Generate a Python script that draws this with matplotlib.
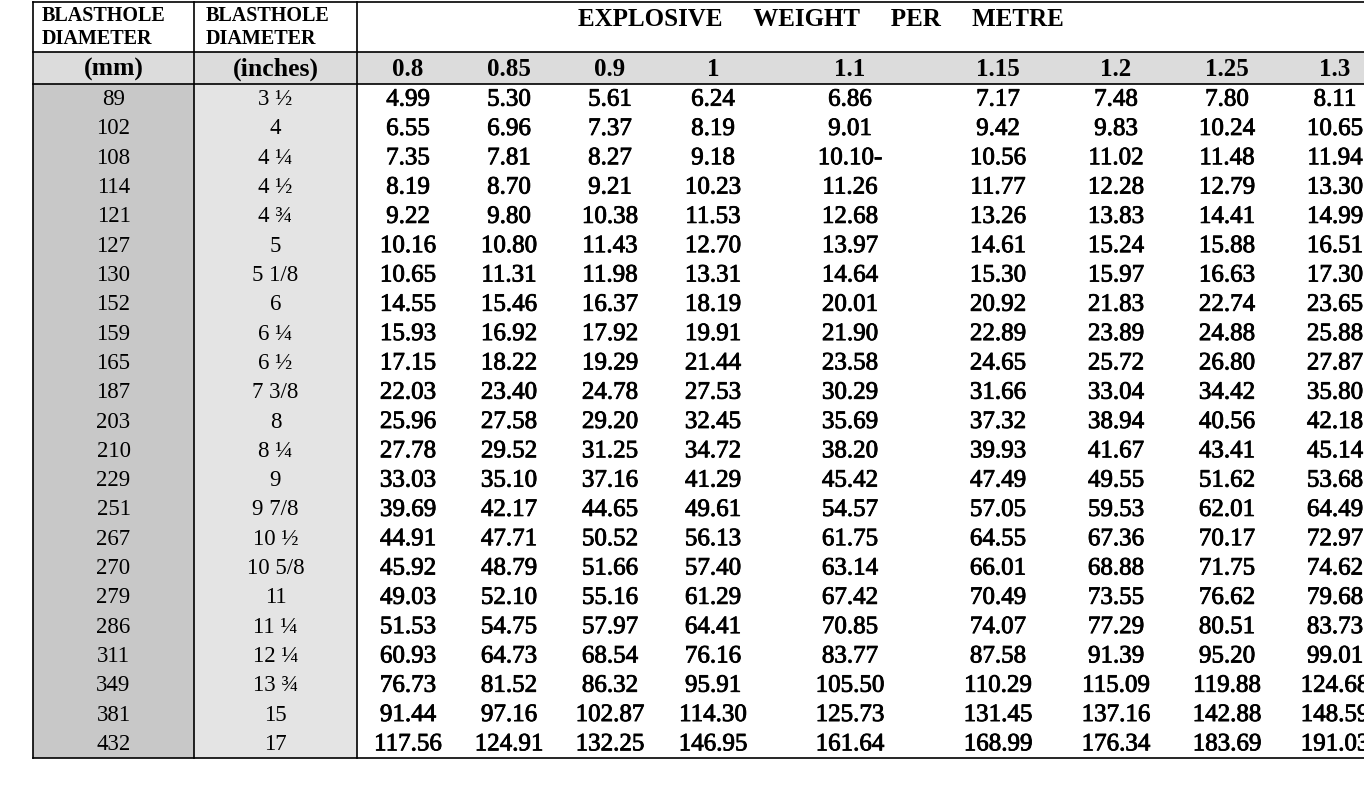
import matplotlib
matplotlib.use("Agg")
import matplotlib.pyplot as plt
from matplotlib.patches import Rectangle

mm = [89,102,108,114,121,127,130,152,159,165,187,203,210,229,251,267,270,279,286,311,349,381,432]
inches = ["3 ½","4","4 ¼","4 ½","4 ¾","5","5 1/8","6","6 ¼","6 ½","7 3/8","8","8 ¼","9","9 7/8",
          "10 ½","10 5/8","11","11 ¼","12 ¼","13 ¾","15","17"]
weights = ["0.8","0.85","0.9","1","1.1","1.15","1.2","1.25","1.3"]
c080 = ["4.99","6.55","7.35","8.19","9.22","10.16","10.65","14.55","15.93","17.15","22.03","25.96","27.78","33.03","39.69","44.91","45.92","49.03","51.53","60.93","76.73","91.44","117.56"]
c085 = ["5.30","6.96","7.81","8.70","9.80","10.80","11.31","15.46","16.92","18.22","23.40","27.58","29.52","35.10","42.17","47.71","48.79","52.10","54.75","64.73","81.52","97.16","124.91"]
c090 = ["5.61","7.37","8.27","9.21","10.38","11.43","11.98","16.37","17.92","19.29","24.78","29.20","31.25","37.16","44.65","50.52","51.66","55.16","57.97","68.54","86.32","102.87","132.25"]
c100 = ["6.24","8.19","9.18","10.23","11.53","12.70","13.31","18.19","19.91","21.44","27.53","32.45","34.72","41.29","49.61","56.13","57.40","61.29","64.41","76.16","95.91","114.30","146.95"]
c110 = ["6.86","9.01","10.10-","11.26","12.68","13.97","14.64","20.01","21.90","23.58","30.29","35.69","38.20","45.42","54.57","61.75","63.14","67.42","70.85","83.77","105.50","125.73","161.64"]
c115 = ["7.17","9.42","10.56","11.77","13.26","14.61","15.30","20.92","22.89","24.65","31.66","37.32","39.93","47.49","57.05","64.55","66.01","70.49","74.07","87.58","110.29","131.45","168.99"]
c120 = ["7.48","9.83","11.02","12.28","13.83","15.24","15.97","21.83","23.89","25.72","33.04","38.94","41.67","49.55","59.53","67.36","68.88","73.55","77.29","91.39","115.09","137.16","176.34"]
c125 = ["7.80","10.24","11.48","12.79","14.41","15.88","16.63","22.74","24.88","26.80","34.42","40.56","43.41","51.62","62.01","70.17","71.75","76.62","80.51","95.20","119.88","142.88","183.69"]
c130 = ["8.11","10.65","11.94","13.30","14.99","16.51","17.30","23.65","25.88","27.87","35.80","42.18","45.14","53.68","64.49","72.97","74.62","79.68","83.73","99.01","124.68","148.59","191.03"]
cols = [c080,c085,c090,c100,c110,c115,c120,c125,c130]

W, H = 1364, 790
fig = plt.figure(figsize=(W/100, H/100), dpi=100)
ax = fig.add_axes([0, 0, 1, 1])
ax.set_xlim(0, W); ax.set_ylim(H, 0); ax.axis("off")
F = "Liberation Serif"

x0, x1, x2, xr = 33, 194, 357, 1364
ytop, yh2, yd, ybot = 2, 52, 84, 758
n = len(mm)
rh = (ybot - yd) / n
centers = [408, 509, 610, 713, 850, 998, 1116, 1227, 1335]

ax.add_patch(Rectangle((x0, yh2), xr - x0, yd - yh2, color="#dcdcdc", lw=0))
ax.add_patch(Rectangle((x0, yd), x1 - x0, ybot - yd, color="#c8c8c8", lw=0))
ax.add_patch(Rectangle((x1, yd), x2 - x1, ybot - yd, color="#e4e4e4", lw=0))
lk = dict(color="black", lw=1.2)
for y in (ytop, yh2, yd, ybot):
    ax.plot([x0, xr], [y, y], **lk)
for x in (x0, x1, x2):
    ax.plot([x, x], [ytop, ybot], **lk)

for xl in (42, 206):
    ax.text(xl, 16, "BLASTHOLE", fontfamily=F, fontweight="bold", fontsize=14.5, va="center")
    ax.text(xl, 39, "DIAMETER", fontfamily=F, fontweight="bold", fontsize=14.5, va="center")
ax.text(821, 19, "EXPLOSIVE     WEIGHT     PER     METRE", fontfamily=F, fontweight="bold",
        fontsize=18, ha="center", va="center")
ym = (yh2 + yd) / 2 + 1
ax.text((x0 + x1) / 2, ym, "(mm)", fontfamily=F, fontweight="bold", fontsize=18.5, ha="center", va="center")
ax.text((x1 + x2) / 2, ym, "(inches)", fontfamily=F, fontweight="bold", fontsize=18.5, ha="center", va="center")
for c, w in zip(centers, weights):
    ax.text(c, ym, w, fontfamily=F, fontweight="bold", fontsize=18, ha="center", va="center")

for i in range(n):
    y = yd + (i + 0.5) * rh + 1
    ax.text((x0 + x1) / 2, y, str(mm[i]), fontfamily=F, fontsize=16.5, ha="center", va="center")
    ax.text((x1 + x2) / 2, y, inches[i], fontfamily=F, fontsize=16.5, ha="center", va="center")
    for c, col in zip(centers, cols):
        ax.text(c, y, col[i], fontfamily=F, fontsize=18, ha="center", va="center",
                path_effects=[__import__("matplotlib.patheffects", fromlist=["x"]).withStroke(linewidth=0.6, foreground="black")])

fig.savefig("out.png", dpi=100)
